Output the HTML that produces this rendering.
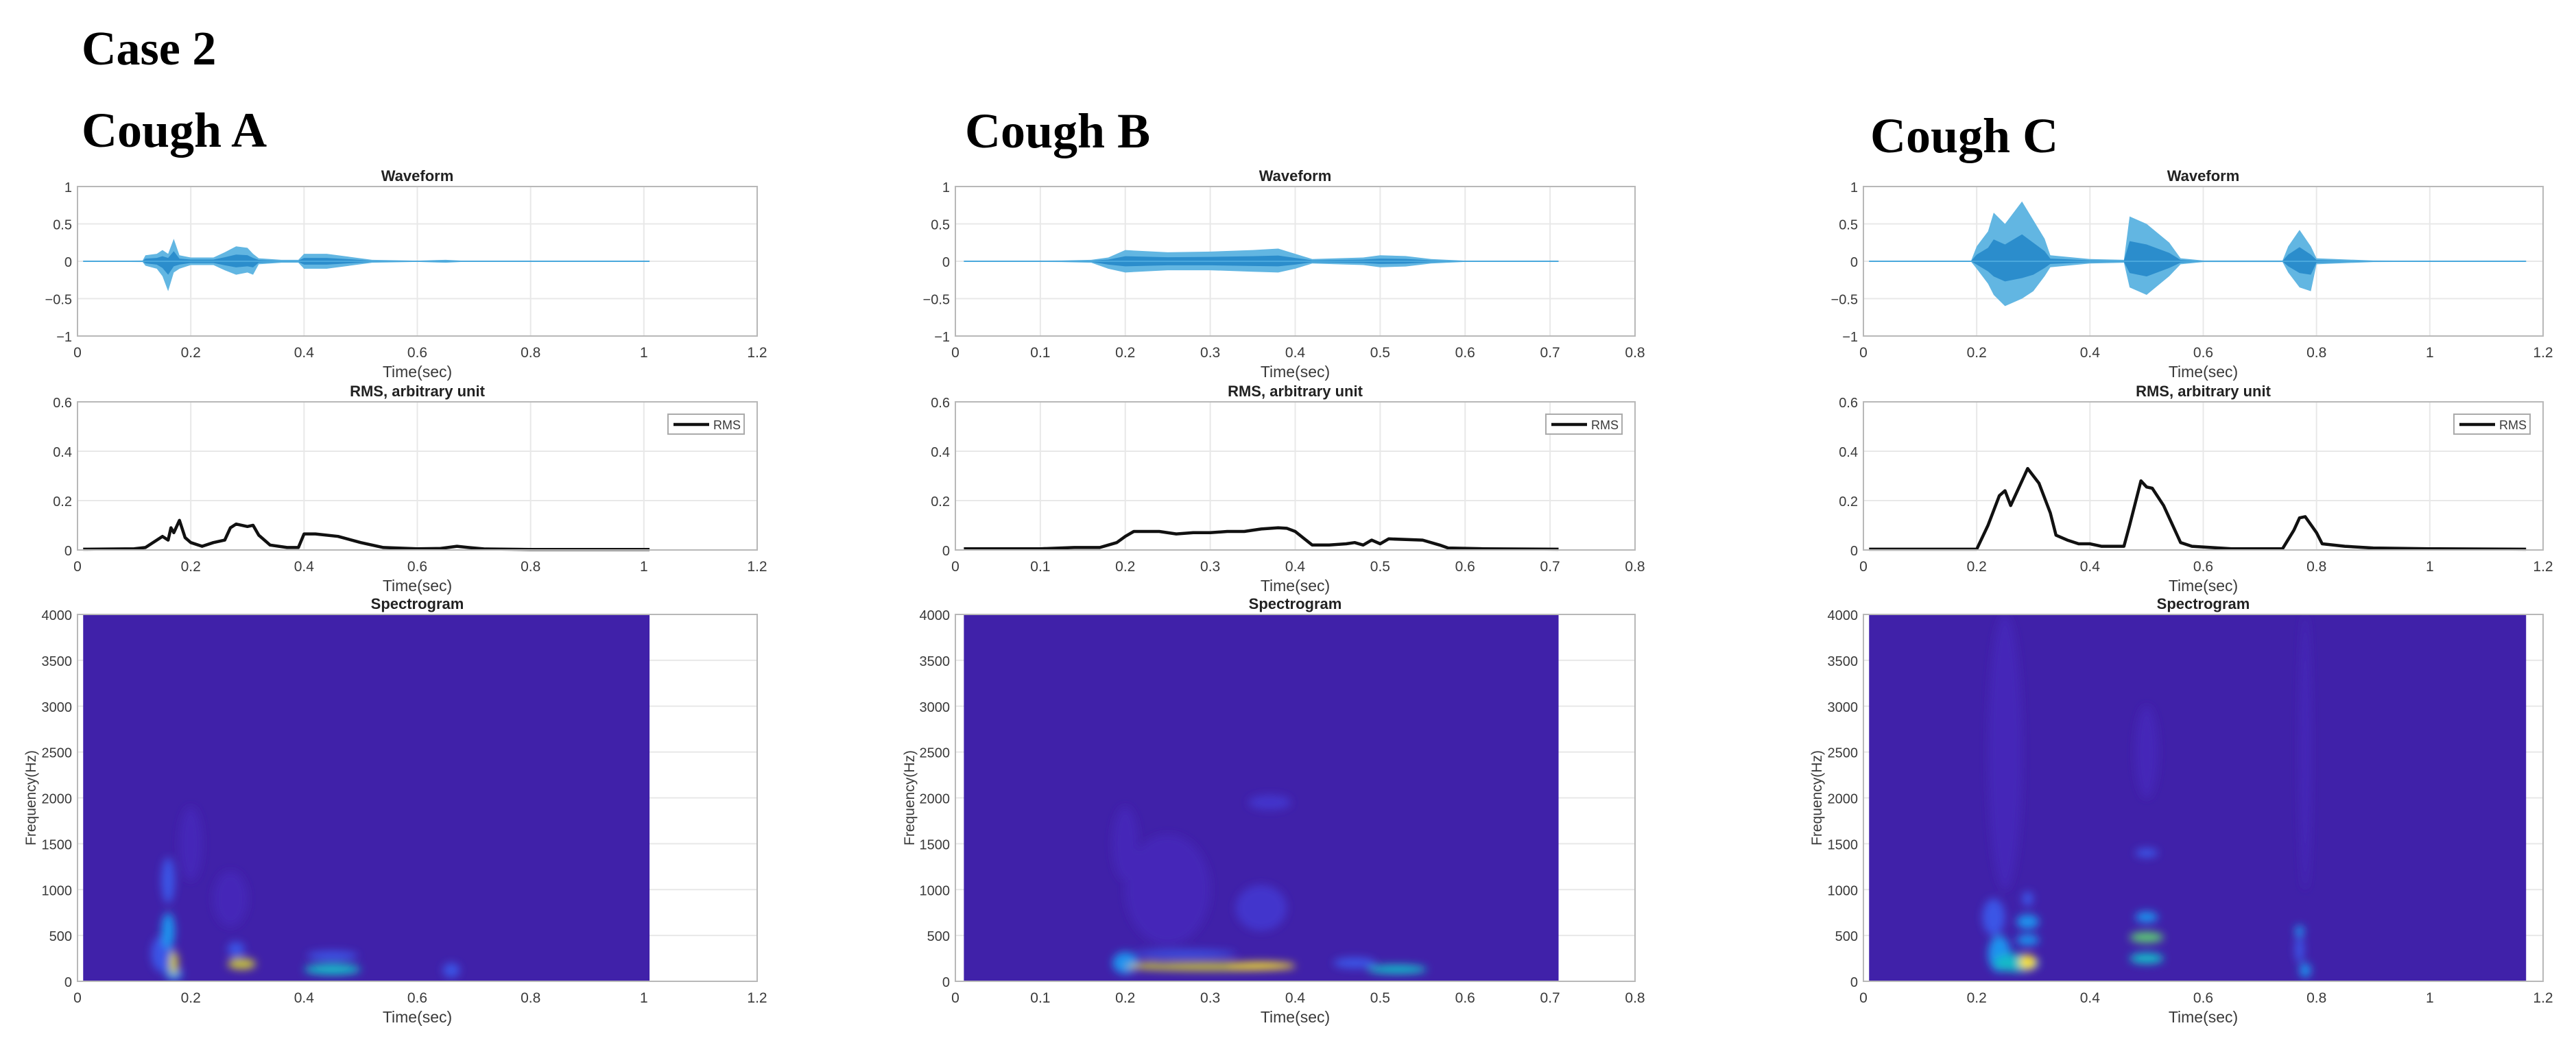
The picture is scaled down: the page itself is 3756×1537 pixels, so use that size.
<!DOCTYPE html>
<html><head><meta charset="utf-8">
<style>
html,body{margin:0;padding:0;background:#fff;}
svg text{font-family:"Liberation Sans",sans-serif;}
</style></head>
<body>
<svg id="fig" xmlns="http://www.w3.org/2000/svg" width="3756" height="1532" viewBox="0 0 3756 1532">
<defs>
<filter id="blur" x="-50%" y="-50%" width="200%" height="200%"><feGaussianBlur stdDeviation="6"/></filter>
</defs>
<text x="119" y="94" style="font-family:'Liberation Serif',serif" font-weight="bold" font-size="70">Case 2</text>
<text x="119" y="214" style="font-family:'Liberation Serif',serif" font-weight="bold" font-size="72">Cough A</text>
<text x="1407" y="215" style="font-family:'Liberation Serif',serif" font-weight="bold" font-size="72">Cough B</text>
<text x="2727" y="222" style="font-family:'Liberation Serif',serif" font-weight="bold" font-size="72">Cough C</text>
<g id="plots"></g>
</svg>
<script>
// ---- Data ----
const rmsA_t = [0.01,0.1,0.12,0.14,0.15,0.16,0.165,0.17,0.18,0.19,0.2,0.22,0.24,0.26,0.27,0.28,0.3,0.31,0.32,0.34,0.37,0.39,0.4,0.42,0.46,0.5,0.54,0.6,0.64,0.67,0.69,0.72,0.8,1.01];
const rmsA_v = [0.003,0.005,0.01,0.04,0.055,0.04,0.09,0.07,0.12,0.05,0.03,0.015,0.03,0.04,0.09,0.105,0.095,0.1,0.06,0.02,0.01,0.01,0.065,0.065,0.055,0.03,0.01,0.005,0.006,0.015,0.01,0.004,0.002,0.002];
const rmsB_t = [0.01,0.1,0.14,0.17,0.18,0.19,0.2,0.21,0.24,0.26,0.28,0.3,0.32,0.34,0.36,0.38,0.39,0.4,0.42,0.44,0.46,0.47,0.48,0.49,0.5,0.51,0.55,0.57,0.58,0.62,0.71];
const rmsB_v = [0.005,0.005,0.01,0.01,0.02,0.03,0.055,0.075,0.075,0.065,0.07,0.07,0.075,0.075,0.085,0.09,0.088,0.075,0.02,0.02,0.025,0.03,0.02,0.04,0.025,0.045,0.04,0.02,0.008,0.005,0.003];
const rmsC_t = [0.01,0.2,0.22,0.24,0.25,0.26,0.27,0.29,0.31,0.33,0.34,0.36,0.38,0.4,0.42,0.46,0.47,0.49,0.5,0.51,0.53,0.56,0.58,0.65,0.74,0.76,0.77,0.78,0.8,0.81,0.85,0.9,1.0,1.17];
const rmsC_v = [0.003,0.003,0.1,0.22,0.24,0.18,0.23,0.33,0.27,0.15,0.06,0.04,0.025,0.025,0.015,0.015,0.1,0.28,0.255,0.25,0.18,0.03,0.015,0.005,0.005,0.08,0.13,0.135,0.07,0.025,0.015,0.008,0.005,0.003];

const waveA_t  = [0.01,0.115,0.12,0.14,0.15,0.16,0.17,0.18,0.2,0.24,0.26,0.28,0.3,0.31,0.32,0.36,0.39,0.4,0.44,0.48,0.52,0.6,0.65,0.68,1.01];
const waveA_up = [0.005,0.01,0.08,0.1,0.15,0.1,0.3,0.08,0.05,0.05,0.12,0.2,0.18,0.1,0.04,0.02,0.02,0.1,0.1,0.06,0.02,0.008,0.02,0.008,0.004];
const waveA_lo = [-0.005,-0.01,-0.06,-0.1,-0.2,-0.4,-0.15,-0.1,-0.05,-0.05,-0.12,-0.18,-0.15,-0.18,-0.04,-0.02,-0.02,-0.1,-0.1,-0.06,-0.02,-0.008,-0.02,-0.008,-0.004];
const waveB_t  = [0.01,0.125,0.16,0.18,0.2,0.25,0.3,0.35,0.38,0.4,0.42,0.48,0.5,0.53,0.56,0.6,0.71];
const waveB_up = [0.003,0.01,0.02,0.05,0.15,0.12,0.13,0.15,0.17,0.1,0.03,0.05,0.08,0.07,0.03,0.008,0.004];
const waveB_lo = [-0.003,-0.01,-0.02,-0.1,-0.15,-0.12,-0.12,-0.14,-0.15,-0.1,-0.03,-0.05,-0.08,-0.07,-0.03,-0.008,-0.004];
const waveC_t  = [0.01,0.19,0.2,0.22,0.23,0.25,0.28,0.3,0.32,0.33,0.4,0.46,0.47,0.5,0.54,0.56,0.6,0.74,0.75,0.77,0.79,0.8,0.9,1.17];
const waveC_up = [0.003,0.005,0.2,0.4,0.65,0.5,0.8,0.55,0.3,0.08,0.03,0.02,0.6,0.5,0.25,0.04,0.01,0.01,0.2,0.42,0.2,0.04,0.01,0.003];
const waveC_lo = [-0.003,-0.005,-0.1,-0.3,-0.45,-0.6,-0.5,-0.4,-0.2,-0.08,-0.03,-0.02,-0.35,-0.45,-0.2,-0.04,-0.01,-0.01,-0.15,-0.35,-0.4,-0.04,-0.01,-0.003];

// spectrogram blobs: time, freq, time-halfwidth, freq-halfwidth, level
const specA_t  = [0.16,0.16,0.17,0.15,0.17,0.29,0.28,0.45,0.45,0.66,0.2,0.27];
const specA_f  = [1100,550,200,300,80,190,350,130,280,120,1500,900];
const specA_dt = [0.012,0.012,0.008,0.02,0.015,0.025,0.015,0.05,0.045,0.015,0.02,0.03];
const specA_df = [250,200,130,200,70,60,80,60,50,80,400,300];
const specA_lv = [0.4,0.45,0.9,0.35,0.55,0.9,0.4,0.65,0.4,0.3,0.15,0.15];
const specB_t  = [0.3,0.36,0.23,0.2,0.27,0.52,0.47,0.36,0.37,0.25,0.2];
const specB_f  = [160,170,170,200,300,130,200,800,1950,1000,1500];
const specB_dt = [0.1,0.04,0.02,0.015,0.06,0.035,0.025,0.03,0.025,0.05,0.015];
const specB_df = [45,40,35,120,40,50,60,250,80,600,400];
const specB_lv = [0.85,1.0,0.85,0.5,0.4,0.6,0.35,0.25,0.2,0.15,0.15];
const specC_t  = [0.27,0.29,0.24,0.23,0.29,0.29,0.29,0.25,0.5,0.5,0.5,0.5,0.77,0.78,0.77,0.78,0.5];
const specC_f  = [200,210,300,700,450,650,900,2500,480,250,700,1400,550,120,350,2500,2500];
const specC_dt = [0.04,0.015,0.02,0.02,0.02,0.02,0.01,0.03,0.03,0.03,0.02,0.02,0.008,0.01,0.008,0.01,0.02];
const specC_df = [100,80,200,200,60,80,80,1500,60,60,60,50,60,80,150,1500,500];
const specC_lv = [0.65,1.0,0.45,0.4,0.45,0.45,0.35,0.15,0.75,0.7,0.45,0.3,0.5,0.5,0.4,0.12,0.12];

const waveTicksY = [-1,-0.5,0,0.5,1];
const waveTickLabelsY = ['\u22121','\u22120.5','0','0.5','1'];
const rmsTicksY = [0,0.2,0.4,0.6];
const rmsTickLabelsY = ['0','0.2','0.4','0.6'];
const specTicksY = [0,500,1000,1500,2000,2500,3000,3500,4000];
const xTicks12 = [0,0.2,0.4,0.6,0.8,1,1.2];
const xTickLabels12 = ['0','0.2','0.4','0.6','0.8','1','1.2'];
const xTicks08 = [0,0.1,0.2,0.3,0.4,0.5,0.6,0.7,0.8];
const xTickLabels08 = ['0','0.1','0.2','0.3','0.4','0.5','0.6','0.7','0.8'];
const specEnd = [1.01,0.71,1.17];

// ---- Layout ----
const NS = 'http://www.w3.org/2000/svg';
const root = document.getElementById('plots');
const cols = [
  {id:'a', x0:113, x1:1104, xmax:1.2, ticks:xTicks12, labels:xTickLabels12, ylab:46,
   rt:rmsA_t, rv:rmsA_v, wt:waveA_t, wu:waveA_up, wl:waveA_lo,
   st:specA_t, sf:specA_f, sdt:specA_dt, sdf:specA_df, sl:specA_lv, se:specEnd[0]},
  {id:'b', x0:1393, x1:2384, xmax:0.8, ticks:xTicks08, labels:xTickLabels08, ylab:1327,
   rt:rmsB_t, rv:rmsB_v, wt:waveB_t, wu:waveB_up, wl:waveB_lo,
   st:specB_t, sf:specB_f, sdt:specB_dt, sdf:specB_df, sl:specB_lv, se:specEnd[1]},
  {id:'c', x0:2717, x1:3708, xmax:1.2, ticks:xTicks12, labels:xTickLabels12, ylab:2650,
   rt:rmsC_t, rv:rmsC_v, wt:waveC_t, wu:waveC_up, wl:waveC_lo,
   st:specC_t, sf:specC_f, sdt:specC_dt, sdf:specC_df, sl:specC_lv, se:specEnd[2]}
];
const rows = {wave:{y0:272,y1:490}, rms:{y0:586,y1:802}, spec:{y0:896,y1:1431}};

function mk(tag, attrs, parent){
  const e = document.createElementNS(NS, tag);
  for (const k in attrs) e.setAttribute(k, attrs[k]);
  (parent||root).appendChild(e);
  return e;
}
function txt(parent, x, y, s, size, anchor, weight, fill){
  const t = mk('text', {x:x, y:y, 'font-size':size, 'text-anchor':anchor||'middle', fill:fill||'#3a3a3a'}, parent);
  if (weight) t.setAttribute('font-weight', weight);
  t.textContent = s;
  return t;
}
const parula = [[0,'#4021a9'],[0.15,'#4428b8'],[0.25,'#4236cc'],[0.35,'#3a55e6'],[0.5,'#1f93ee'],[0.65,'#14b9c8'],[0.8,'#5cc874'],[0.9,'#c8c43a'],[1,'#f9e125']];
function color(l){ let c = parula[0][1]; for (const p of parula) if (l >= p[0]-0.05) c = p[1]; return c; }

function axesFrame(g, c, r, ymin, ymax, yt, ylabels, title){
  const sx = v => c.x0 + (v/c.xmax)*(c.x1-c.x0);
  const sy = v => r.y1 - (v-ymin)/(ymax-ymin)*(r.y1-r.y0);
  const grid = mk('g', {}, g);
  
  
  c.ticks.forEach(t => mk('line', {x1:sx(t), x2:sx(t), y1:r.y0, y2:r.y1, stroke:'#e8e8e8', 'stroke-width':2}, grid));
  yt.forEach(t => mk('line', {x1:c.x0, x2:c.x1, y1:sy(t), y2:sy(t), stroke:'#e8e8e8', 'stroke-width':2}, grid));
  const xl = mk('g', {}, g);
  
  
  c.ticks.forEach((t,i) => { txt(xl, sx(t), r.y1+31, c.labels[i], 21); });
  const yl = mk('g', {}, g);
  
  
  yt.forEach((t,i) => { txt(yl, c.x0-8, sy(t)+8, ylabels[i], 20, 'end'); });
  const xt = txt(g, (c.x0+c.x1)/2, r.y1+60, 'Time(sec)', 23);
  
  
  const tt = txt(g, (c.x0+c.x1)/2, r.y0-8, title, 22, 'middle', 'bold', '#222');
  
  
  return {sx, sy};
}
function box(g, c, r){
  const b = mk('rect', {x:c.x0, y:r.y0, width:c.x1-c.x0, height:r.y1-r.y0, fill:'none', stroke:'#b8b8b8', 'stroke-width':2}, g);
  
  
}

cols.forEach(c => {
  // Waveform
  let g = mk('g', {});
  
  
  let r = rows.wave;
  let s = axesFrame(g, c, r, -1, 1, waveTicksY, waveTickLabelsY, 'Waveform');
  let pts = c.wt.map((t,i) => s.sx(t)+','+s.sy(c.wu[i]));
  for (let i=c.wt.length-1;i>=0;i--) pts.push(s.sx(c.wt[i])+','+s.sy(c.wl[i]));
  const wf = mk('polygon', {points:pts.join(' '), fill:'#62b6e2'}, g);
  
  
  let pts2 = c.wt.map((t,i) => s.sx(t)+','+s.sy(c.wu[i]*0.45));
  for (let i=c.wt.length-1;i>=0;i--) pts2.push(s.sx(c.wt[i])+','+s.sy(c.wl[i]*0.45));
  const wc = mk('polygon', {points:pts2.join(' '), fill:'#1a7fc4', opacity:0.75}, g);
  
  
  const zl = mk('line', {x1:s.sx(c.wt[0]), x2:s.sx(c.wt[c.wt.length-1]), y1:s.sy(0), y2:s.sy(0), stroke:'#4aa8dc', 'stroke-width':2}, g);
  
  
  box(g, c, r);

  // RMS
  g = mk('g', {});
  
  
  r = rows.rms;
  s = axesFrame(g, c, r, 0, 0.6, rmsTicksY, rmsTickLabelsY, 'RMS, arbitrary unit');
  const rl = mk('polyline', {points:c.rt.map((t,i)=>s.sx(t)+','+s.sy(c.rv[i])).join(' '), fill:'none', stroke:'#111', 'stroke-width':4.5, 'stroke-linejoin':'round'}, g);
  
  
  box(g, c, r);
  const lg = mk('g', {}, g);
  
  
  mk('rect', {x:c.x1-130, y:r.y0+18, width:111, height:29, fill:'#fff', stroke:'#aaa', 'stroke-width':2}, lg);
  mk('line', {x1:c.x1-122, x2:c.x1-70, y1:r.y0+33, y2:r.y0+33, stroke:'#111', 'stroke-width':4.5}, lg);
  txt(lg, c.x1-64, r.y0+40, 'RMS', 18, 'start');

  // Spectrogram
  g = mk('g', {});
  
  
  r = rows.spec;
  s = axesFrame(g, c, r, 0, 4000, specTicksY, specTicksY.map(String), 'Spectrogram');
  const bg = mk('rect', {x:s.sx(0.01), y:r.y0, width:s.sx(c.se)-s.sx(0.01), height:r.y1-r.y0, fill:'#4021a9'}, g);
  
  
  const cp = mk('clipPath', {id:'clip'+c.id}, g);
  mk('rect', {x:s.sx(0.01), y:r.y0, width:s.sx(c.se)-s.sx(0.01), height:r.y1-r.y0}, cp);
  const bl = mk('g', {'clip-path':'url(#clip'+c.id+')', filter:'url(#blur)'}, g);
  
  
  const order = c.sl.map((l,i)=>i).sort((a,b)=>c.sl[a]-c.sl[b]);
  order.forEach(i => {
    const e = mk('ellipse', {cx:s.sx(c.st[i]), cy:s.sy(c.sf[i]), rx:Math.abs(s.sx(c.sdt[i])-s.sx(0)), ry:Math.abs(s.sy(0)-s.sy(c.sdf[i])), fill:color(c.sl[i])}, bl);
    
    
  });
  box(g, c, r);
  const yt = txt(g, 0, 0, 'Frequency(Hz)', 21);
  yt.setAttribute('transform', 'translate('+(c.ylab+6)+','+((r.y0+r.y1)/2)+') rotate(-90)');
  
  
});
</script>
</body></html>
